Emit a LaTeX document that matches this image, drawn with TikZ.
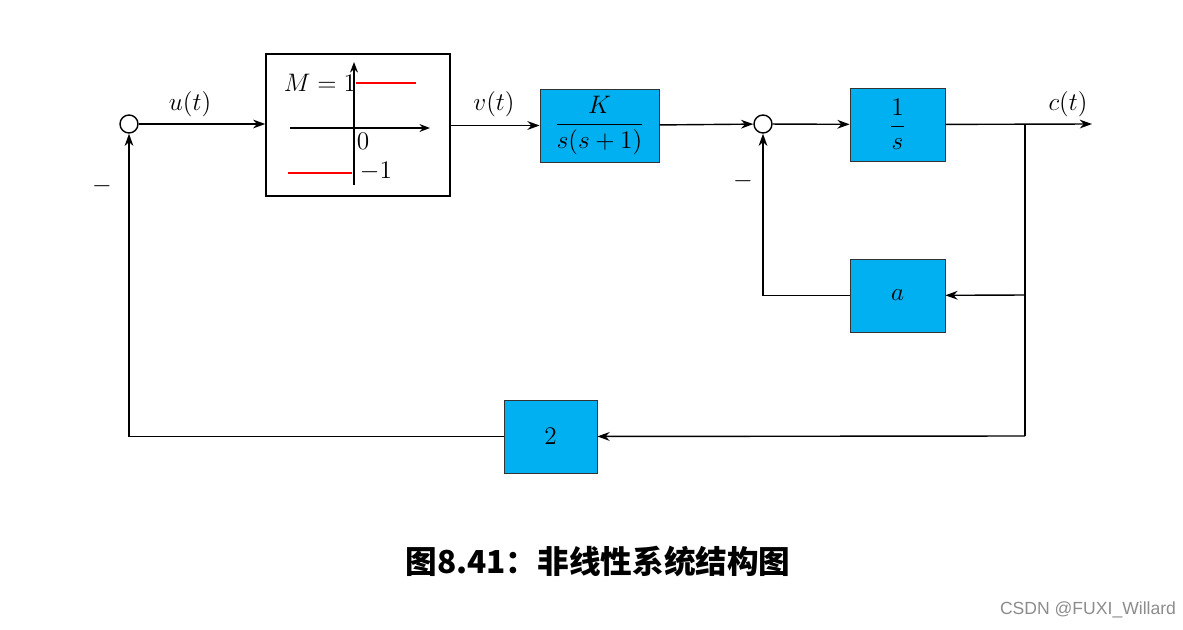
\documentclass[tikz,border=0pt]{standalone}
\usepackage{amsmath}
\usepackage{fontspec}
\newfontfamily\cjk{Noto Sans CJK SC}
\newfontfamily\lib{Liberation Sans}
\usetikzlibrary{arrows.meta}
\definecolor{cy}{RGB}{0,176,240}
\begin{document}
\begin{tikzpicture}[x=0.02cm,y=-0.02cm,
  blk/.style={draw=black!80,fill=cy,minimum width=1.9cm,minimum height=1.46cm,inner sep=0,font=\Large},
  sum/.style={draw,circle,minimum size=0.36cm,inner sep=0,thick},
  ar/.style={-{Stealth[length=7pt,width=5pt]},thick},
  ln/.style={thick}]
\useasboundingbox (0,0) rectangle (1183,629);
\node[sum] (s1) at (129,124) {};
\node[draw,thick,minimum width=3.68cm,minimum height=2.84cm,inner sep=0] (nl) at (358,125) {};
\draw[-{Stealth[length=6pt]},thick] (290,128) -- (430,128);
\draw[-{Stealth[length=6pt]},thick] (354,185) -- (354,62);
\draw[red,line width=1.5pt] (356,83) -- (416,83);
\draw[red,line width=1.5pt] (288,173) -- (352,173);
\node[font=\Large] (m1) at (320,83) {$M=1$};
\node[font=\Large] (z) at (363,141) {$0$};
\node[font=\Large] (n1) at (376,171) {$-1$};
\node[blk,minimum width=2.38cm] (k) at (599.5,125.5) {$\dfrac{K}{s(s+1)}$};
\node[sum] (s2) at (763,124) {};
\node[blk] (i) at (897.5,124.5) {$\dfrac{1}{s}$};
\node[blk] (a) at (897.5,295.5) {$a$};
\node[blk,minimum width=1.86cm] (two) at (550.5,436.5) {$2$};
\coordinate (out) at (1092,124);
\coordinate (br) at (1025,124);
\coordinate (b1) at (1025,295);
\coordinate (b2) at (1025,436);
\draw[ar] (s1) -- (nl.west|-s1);
\draw[ar] (nl.east|-k) -- (k);
\draw[ar] (k) -- (s2);
\draw[ar] (s2) -- (i);
\draw[ar] (i) -- (out);
\draw[ln] (br) -- (b2);
\draw[ar] (b1) -- (a);
\draw[ar] (a.west) -| (s2.south);
\draw[ar] (b2) -- (two);
\draw[ar] (two.west) -| (s1.south);
\node[font=\Large] (u) at (190,104) {$u(t)$};
\node[font=\Large] (v) at (494,104) {$v(t)$};
\node[font=\Large] (c) at (1068,104) {$c(t)$};
\node[font=\Large] (m2) at (743,181) {$-$};
\node[font=\Large] (m3) at (102,186) {$-$};
\node[font=\cjk\bfseries\fontsize{18}{22}\selectfont] (cap) at (598,561) {图8.41：非线性系统结构图};
\node[font=\lib\fontsize{10}{12}\selectfont,text=black!45] (wm) at (1088,610) {CSDN @FUXI\_Willard};
\end{tikzpicture}
\end{document}
